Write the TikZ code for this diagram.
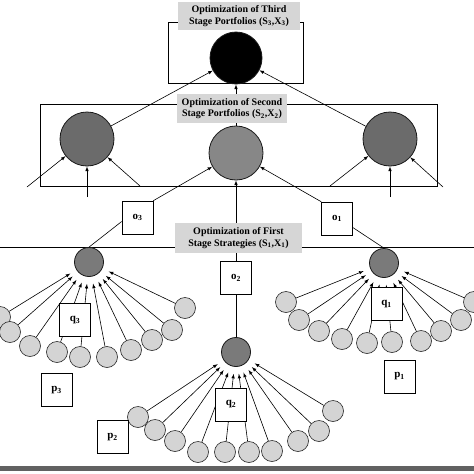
\documentclass[tikz,border=0pt]{standalone}
\usepackage{fontspec}
\setmainfont{Liberation Serif}
\usepackage{tikz}
\usetikzlibrary{calc}

\tikzset{
  stagelabel/.style={fill=black!16, inner sep=2pt, align=center, minimum height=29pt, font=\fontsize{10}{11.5}\selectfont\bfseries},
  bigdot/.style={circle, draw=black!90, thick, minimum size=54pt, inner sep=0pt},
  hubdot/.style={circle, draw=black!90, thick, fill=black!52, minimum size=29pt, inner sep=0pt},
  leaf/.style={circle, draw=black!85, semithick, fill=black!17, minimum size=21pt, inner sep=0pt},
  varbox/.style={draw, fill=white, minimum width=31pt, minimum height=33pt, inner sep=0pt, font=\fontsize{11}{13}\selectfont\bfseries},
  feed/.style={-latex},
  fanfeed/.style={-latex, shorten >=7pt},
}

\begin{document}
\begin{tikzpicture}[scale=1.0,x=1pt,y=-1pt,line width=0.6pt]
\useasboundingbox (0.0,0.0) rectangle (474.0,474.0);
\fill[white] (0.0,0.0) rectangle (474.0,474.0);
% Drawing frames
\draw (168.0,22.0) rectangle (303.0,83.0);
\draw (40.0,104.0) rectangle (437.0,186.0);
\draw (0.0,247.0) -- (474.0,247.0);
% Drawing portfolio nodes
\node[bigdot, fill=black, minimum size=52pt] (third) at (236.0,58.0) {};
\node[bigdot, fill=black!58] (secleft) at (87.0,139.0) {};
\node[bigdot, fill=black!47] (secmid) at (236.0,153.0) {};
\node[bigdot, fill=black!58] (secright) at (390.0,139.0) {};
\draw[feed] (secleft) -- (third);
\draw[feed] (secmid) -- (third);
\draw[feed] (secright) -- (third);
% Drawing inputs of second stage
\coordinate (tailA) at (27.0,187.0);
\coordinate (tailB) at (87.0,197.0);
\coordinate (tailC) at (140.0,186.0);
\coordinate (tailD) at (330.0,186.0);
\coordinate (tailE) at (390.0,197.0);
\coordinate (tailF) at (443.0,187.0);
\draw[feed] (tailA) -- (secleft);
\draw[feed] (tailB) -- (secleft);
\draw[feed] (tailC) -- (secleft);
\draw[feed] (tailD) -- (secright);
\draw[feed] (tailE) -- (secright);
\draw[feed] (tailF) -- (secright);
% Drawing first stage hubs
\node[varbox] (o3) at (137.5,217.5) {o\textsubscript{3}};
\node[varbox] (o2) at (236.0,278.0) {o\textsubscript{2}};
\node[varbox] (o1) at (337.0,218.5) {o\textsubscript{1}};
\node[hubdot] (hub3) at (89.0,262.0) {};
\node[hubdot] (hub2) at (236.0,352.0) {};
\node[hubdot] (hub1) at (384.0,263.0) {};
\draw[feed] (o3.north east) -- (secmid);
\draw[feed] (o2.north) -- (secmid);
\draw[feed] (o1.north west) -- (secmid);
\draw ([yshift=-4pt]o3.west) -- (hub3.north);
\draw (o2.south) -- (hub2.north);
\draw ([yshift=-9pt]o1.east) -- (hub1.north);
% Drawing the fans of leaves
\foreach \x/\y [count=\i] in {0/317,10/332,30/346,57/352,80/357,107/357,131/350,152/340,172/330,185/308}{
  \node[leaf] (leafC\i) at (\x,\y) {};
  \draw[fanfeed] (leafC\i) -- (hub3);
}
\foreach \x/\y [count=\i] in {138/417,155/430,175/441,198/452,225/452,249/452,272/451,298/441,319/431,333/411}{
  \node[leaf] (leafB\i) at (\x,\y) {};
  \draw[fanfeed] (leafB\i) -- (hub2);
}
\foreach \x/\y [count=\i] in {286/302,299/320,319/331,342/339,367/343,392/342,421/341,441/331,461/320,474/302}{
  \node[leaf] (leafA\i) at (\x,\y) {};
  \draw[fanfeed] (leafA\i) -- (hub1);
}
% Drawing boxes of the fans
\node[varbox] (q3) at (75.0,320.0) {q\textsubscript{3}};
\node[varbox] (q2) at (231.0,404.5) {q\textsubscript{2}};
\node[varbox] (q1) at (386.5,304.0) {q\textsubscript{1}};
\node[varbox] (p3) at (56.5,390.0) {p\textsubscript{3}};
\node[varbox] (p2) at (112.5,437.0) {p\textsubscript{2}};
\node[varbox] (p1) at (399.5,376.5) {p\textsubscript{1}};
% Drawing stage labels
\node[stagelabel, minimum width=122pt, minimum height=28pt] (lblthird) at (239.0,16.0) {Optimization of Third\\Stage Portfolios (S\textsubscript{3},X\textsubscript{3})};
\node[stagelabel, minimum width=110pt] (lblsecond) at (232.0,108.5) {Optimization of Second\\Stage Portfolios (S\textsubscript{2},X\textsubscript{2})};
\node[stagelabel, minimum width=127pt, minimum height=30pt] (lblfirst) at (238.5,238.0) {Optimization of First\\Stage Strategies (S\textsubscript{1},X\textsubscript{1})};
% scan edge
\fill[black!62] (0.0,466.0) rectangle (474.0,471.0);
\end{tikzpicture}
\end{document}
